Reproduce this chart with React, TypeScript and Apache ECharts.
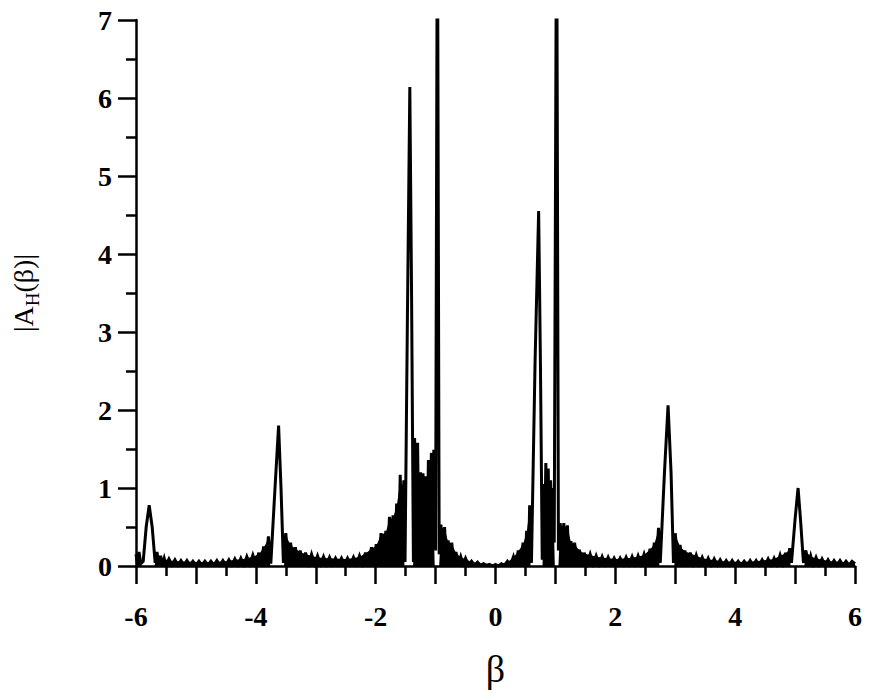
import React, { useEffect, useRef } from "react";
import * as echarts from "echarts";

// |A_H(beta)| samples, split by region: [beta, value]
const farLeft: [number, number][] = [
  [-6.0, 0.15], [-5.975, 0.02], [-5.95, 0.18], [-5.92, 0.03], [-5.88, 0.06],
  [-5.83, 0.5], [-5.78, 0.78], [-5.73, 0.5], [-5.68, 0.04], [-5.65, 0.18],
  [-5.62, 0.02], [-5.59, 0.13], [-5.56, 0.02], [-5.53, 0.1], [-5.5, 0.01],
  [-5.45, 0.09], [-5.4, 0.01], [-5.35, 0.08], [-5.3, 0.01], [-5.25, 0.07],
  [-5.2, 0.01], [-5.15, 0.07], [-5.1, 0.01], [-5.05, 0.06], [-5.0, 0.01],
  [-4.95, 0.06], [-4.9, 0.01], [-4.85, 0.06], [-4.8, 0.01], [-4.75, 0.06],
  [-4.7, 0.01], [-4.65, 0.07], [-4.6, 0.01], [-4.55, 0.07], [-4.5, 0.01],
  [-4.45, 0.08], [-4.4, 0.01], [-4.35, 0.09], [-4.3, 0.01], [-4.25, 0.1],
  [-4.2, 0.01], [-4.15, 0.12], [-4.1, 0.02], [-4.05, 0.14], [-4.0, 0.02],
  [-3.95, 0.17], [-3.91, 0.02], [-3.87, 0.25], [-3.83, 0.03], [-3.79, 0.38],
  [-3.75, 0.03], [-3.68, 1.0], [-3.62, 1.8], [-3.58, 1.0], [-3.54, 0.04],
  [-3.5, 0.42], [-3.46, 0.03], [-3.42, 0.3], [-3.38, 0.02], [-3.34, 0.24],
  [-3.3, 0.02], [-3.26, 0.2], [-3.22, 0.02], [-3.17, 0.17], [-3.12, 0.02],
  [-3.07, 0.15], [-3.02, 0.02],
];

const leftCentral: [number, number][] = [
  [-2.97, 0.13], [-2.92, 0.02], [-2.87, 0.12], [-2.82, 0.02], [-2.77, 0.11],
  [-2.72, 0.02], [-2.67, 0.1], [-2.62, 0.02], [-2.57, 0.1], [-2.52, 0.02],
  [-2.47, 0.1], [-2.42, 0.02], [-2.37, 0.11], [-2.32, 0.02], [-2.27, 0.13],
  [-2.22, 0.02], [-2.17, 0.17], [-2.12, 0.02], [-2.07, 0.24], [-2.03, 0.02],
  [-1.99, 0.28], [-1.95, 0.03], [-1.91, 0.42], [-1.87, 0.04], [-1.83, 0.45],
  [-1.8, 0.04], [-1.77, 0.63], [-1.74, 0.05], [-1.71, 0.65], [-1.68, 0.05],
  [-1.65, 0.8], [-1.62, 0.06], [-1.59, 1.17], [-1.56, 0.06], [-1.53, 1.1],
  [-1.51, 0.05], [-1.47, 3.2], [-1.43, 6.14], [-1.4, 3.4], [-1.37, 0.05],
  [-1.35, 1.64], [-1.33, 0.3], [-1.3, 1.58], [-1.28, 0.2], [-1.25, 1.2],
  [-1.23, 0.35], [-1.21, 1.19], [-1.19, 0.25], [-1.16, 1.15], [-1.14, 0.3],
  [-1.12, 1.36], [-1.1, 0.3], [-1.07, 1.45], [-1.05, 0.25], [-1.03, 1.49],
  [-1.0, 0.2], [-0.97, 9.0], [-0.94, 0.15], [-0.91, 0.53], [-0.88, 0.05],
  [-0.85, 0.5], [-0.82, 0.04], [-0.79, 0.33], [-0.76, 0.03], [-0.73, 0.3],
  [-0.7, 0.03], [-0.66, 0.18], [-0.62, 0.02], [-0.58, 0.12], [-0.54, 0.02],
  [-0.5, 0.1], [-0.45, 0.01], [-0.4, 0.06], [-0.35, 0.01], [-0.3, 0.05],
  [-0.25, 0.01], [-0.2, 0.03], [-0.15, 0.01], [-0.1, 0.02], [-0.05, 0.0],
];

const rightCentral: [number, number][] = [
  [0.0, 0.02], [0.05, 0.0], [0.1, 0.03], [0.15, 0.01], [0.2, 0.06],
  [0.25, 0.01], [0.3, 0.12], [0.34, 0.01], [0.38, 0.2], [0.42, 0.02],
  [0.46, 0.3], [0.49, 0.02], [0.52, 0.45], [0.55, 0.03], [0.57, 0.78],
  [0.6, 0.04], [0.66, 2.6], [0.72, 4.55], [0.75, 2.6], [0.78, 0.08],
  [0.8, 1.05], [0.82, 0.3], [0.84, 1.32], [0.86, 0.35], [0.88, 1.25],
  [0.9, 0.3], [0.92, 1.1], [0.94, 0.4], [0.96, 1.0], [0.98, 0.3],
  [1.02, 9.0], [1.05, 0.2], [1.08, 0.55], [1.11, 0.05], [1.14, 0.55],
  [1.17, 0.05], [1.2, 0.52], [1.23, 0.04], [1.26, 0.32], [1.29, 0.03],
  [1.32, 0.3], [1.36, 0.03], [1.4, 0.21], [1.44, 0.02], [1.48, 0.17],
  [1.53, 0.02], [1.58, 0.15], [1.63, 0.02], [1.68, 0.13], [1.73, 0.02],
  [1.78, 0.12], [1.83, 0.02], [1.88, 0.11], [1.93, 0.02], [1.98, 0.1],
  [2.03, 0.02], [2.08, 0.1], [2.13, 0.02], [2.18, 0.11], [2.23, 0.02],
  [2.28, 0.12], [2.33, 0.02], [2.38, 0.13], [2.43, 0.02], [2.48, 0.15],
  [2.53, 0.02], [2.58, 0.22], [2.62, 0.02], [2.65, 0.3], [2.69, 0.03],
  [2.72, 0.49], [2.75, 0.04], [2.82, 1.2], [2.88, 2.06], [2.93, 1.2],
  [2.97, 0.04],
];

const farRight: [number, number][] = [
  [3.0, 0.42], [3.04, 0.03], [3.08, 0.27], [3.12, 0.02], [3.16, 0.2],
  [3.2, 0.02], [3.25, 0.17], [3.3, 0.02], [3.35, 0.14], [3.4, 0.02],
  [3.45, 0.11], [3.5, 0.01], [3.55, 0.1], [3.6, 0.01], [3.65, 0.09],
  [3.7, 0.01], [3.75, 0.08], [3.8, 0.01], [3.85, 0.07], [3.9, 0.01],
  [3.95, 0.07], [4.0, 0.01], [4.05, 0.06], [4.1, 0.01], [4.15, 0.06],
  [4.2, 0.01], [4.25, 0.07], [4.3, 0.01], [4.35, 0.07], [4.4, 0.01],
  [4.45, 0.08], [4.5, 0.01], [4.55, 0.09], [4.6, 0.01], [4.65, 0.1],
  [4.7, 0.01], [4.75, 0.14], [4.8, 0.02], [4.84, 0.17], [4.88, 0.02],
  [4.91, 0.23], [4.94, 0.04], [5.0, 0.6], [5.05, 1.0], [5.09, 0.6],
  [5.14, 0.04], [5.18, 0.2], [5.22, 0.02], [5.26, 0.13], [5.3, 0.01],
  [5.35, 0.11], [5.4, 0.01], [5.45, 0.09], [5.5, 0.01], [5.55, 0.08],
  [5.6, 0.01], [5.65, 0.07], [5.7, 0.01], [5.75, 0.07], [5.8, 0.01],
  [5.85, 0.06], [5.9, 0.01], [5.95, 0.06], [6.0, 0.03],
];

// Top of the densely oscillating (solid-looking) band under the ripples,
// zero where the main lobes are open (white inside).
const denseBandTop: [number, number][] = [
  [-6.0, 0.14], [-5.95, 0.15], [-5.91, 0.0], [-5.69, 0.0], [-5.66, 0.15],
  [-5.6, 0.11], [-5.53, 0.09], [-5.45, 0.07], [-5.3, 0.06], [-5.0, 0.05],
  [-4.7, 0.05], [-4.5, 0.06], [-4.35, 0.08], [-4.2, 0.09], [-4.05, 0.12],
  [-3.95, 0.15], [-3.87, 0.23], [-3.79, 0.35], [-3.76, 0.0], [-3.53, 0.0],
  [-3.5, 0.39], [-3.42, 0.27], [-3.34, 0.22], [-3.26, 0.18], [-3.17, 0.15],
  [-3.07, 0.13], [-2.97, 0.11], [-2.8, 0.1], [-2.5, 0.09], [-2.37, 0.1],
  [-2.27, 0.12], [-2.17, 0.16], [-2.07, 0.22], [-1.99, 0.26], [-1.91, 0.4],
  [-1.83, 0.43], [-1.77, 0.6], [-1.71, 0.62], [-1.65, 0.76], [-1.59, 1.08],
  [-1.53, 1.02], [-1.52, 0.0], [-1.375, 0.0], [-1.36, 0.75], [-1.3, 0.85],
  [-1.22, 0.75], [-1.12, 0.85], [-1.04, 0.85], [-1.015, 0.0], [-0.94, 0.0],
  [-0.91, 0.5], [-0.85, 0.47],
  [-0.79, 0.31], [-0.73, 0.28], [-0.66, 0.17], [-0.58, 0.11], [-0.5, 0.09],
  [-0.4, 0.05], [-0.3, 0.04], [-0.2, 0.02], [0.1, 0.02], [0.2, 0.05],
  [0.3, 0.11], [0.38, 0.19], [0.46, 0.28], [0.52, 0.42], [0.57, 0.74],
  [0.585, 0.0], [0.785, 0.0], [0.795, 0.75], [0.84, 0.85], [0.9, 0.75],
  [0.97, 0.65], [0.99, 0.0], [1.05, 0.0], [1.08, 0.52], [1.14, 0.52], [1.2, 0.49],
  [1.26, 0.3], [1.32, 0.28], [1.4, 0.2], [1.48, 0.16], [1.58, 0.14],
  [1.68, 0.12], [1.78, 0.11], [1.88, 0.1], [2.0, 0.09], [2.2, 0.1],
  [2.38, 0.12], [2.48, 0.14], [2.58, 0.21], [2.65, 0.28], [2.72, 0.46],
  [2.735, 0.0], [2.985, 0.0], [3.0, 0.4], [3.08, 0.25], [3.16, 0.19],
  [3.25, 0.16], [3.35, 0.13], [3.45, 0.1], [3.6, 0.08], [3.8, 0.06],
  [4.1, 0.05], [4.35, 0.06], [4.55, 0.08], [4.65, 0.09], [4.75, 0.13],
  [4.84, 0.16], [4.91, 0.21], [4.925, 0.0], [5.155, 0.0], [5.18, 0.19],
  [5.26, 0.12], [5.35, 0.1], [5.45, 0.08], [5.6, 0.06], [5.8, 0.05],
  [6.0, 0.03],
];

const xTickLabels = ["-6", "-4", "-2", "0", "2", "4", "6"];
const yTickLabels = ["0", "1", "2", "3", "4", "5", "6", "7"];

const SERIF = "'Liberation Serif', 'Times New Roman', serif";

export default function App() {
  const ref = useRef<HTMLDivElement>(null);

  useEffect(() => {
    if (!ref.current) return;
    const chart = echarts.init(ref.current, null, { renderer: "svg" });
    const data = [...farLeft, ...leftCentral, ...rightCentral, ...farRight];
    chart.setOption({
      animation: false,
      backgroundColor: "#ffffff",
      grid: {
        left: 136,
        right: 26,
        top: 20,
        bottom: 134,
        containLabel: false,
        outerBoundsMode: "none",
      },
      xAxis: {
        type: "value",
        min: -6,
        max: 6,
        interval: 1,
        name: "β",
        nameLocation: "middle",
        nameGap: 84,
        nameTextStyle: { fontFamily: SERIF, fontSize: 38, color: "#000" },
        splitLine: { show: false },
        axisLine: { show: true, onZero: false, lineStyle: { color: "#000", width: 2.5 } },
        axisTick: { show: true, inside: false, length: 18, lineStyle: { color: "#000", width: 2.5 } },
        minorTick: { show: true, splitNumber: 2, length: 10, lineStyle: { color: "#000", width: 2.5 } },
        axisLabel: {
          margin: 36,
          fontFamily: SERIF,
          fontWeight: "bold",
          fontSize: 28,
          color: "#000",
          formatter: (v: number) => {
            const s = String(Math.round(v));
            return xTickLabels.includes(s) ? s : "";
          },
        },
      },
      yAxis: {
        type: "value",
        min: 0,
        max: 7,
        interval: 1,
        name: "{a||A}{s|H}{a|(β)|}",
        nameLocation: "middle",
        nameRotate: 90,
        nameGap: 90,
        nameTextStyle: {
          rich: {
            a: { fontFamily: SERIF, fontSize: 28, lineHeight: 28, padding: [0, 0, 18, 0], color: "#000" },
            s: { fontFamily: SERIF, fontSize: 19, lineHeight: 18, verticalAlign: "middle", color: "#000" },
          },
        },
        splitLine: { show: false },
        axisLine: { show: true, onZero: false, lineStyle: { color: "#000", width: 2.5 } },
        axisTick: { show: true, inside: false, length: 18, lineStyle: { color: "#000", width: 2.5 } },
        minorTick: { show: true, splitNumber: 2, length: 10, lineStyle: { color: "#000", width: 2.5 } },
        axisLabel: {
          margin: 24,
          fontFamily: SERIF,
          fontWeight: "bold",
          fontSize: 28,
          color: "#000",
          formatter: (v: number) => {
            const s = String(Math.round(v));
            return yTickLabels.includes(s) ? s : "";
          },
        },
      },
      series: [
        {
          type: "line",
          data: denseBandTop,
          showSymbol: false,
          symbol: "none",
          clip: true,
          silent: true,
          lineStyle: { width: 0, opacity: 0 },
          areaStyle: { color: "#000", opacity: 1 },
          z: 1,
        },
        {
          type: "line",
          data,
          showSymbol: false,
          symbol: "none",
          clip: true,
          lineStyle: { color: "#000", width: 3, join: "miter" },
          z: 2,
        },
      ],
    });
    return () => chart.dispose();
  }, []);

  return (
    <div
      ref={ref}
      style={{ position: "absolute", left: 0, top: 0, width: 881, height: 700, background: "#fff" }}
    />
  );
}
